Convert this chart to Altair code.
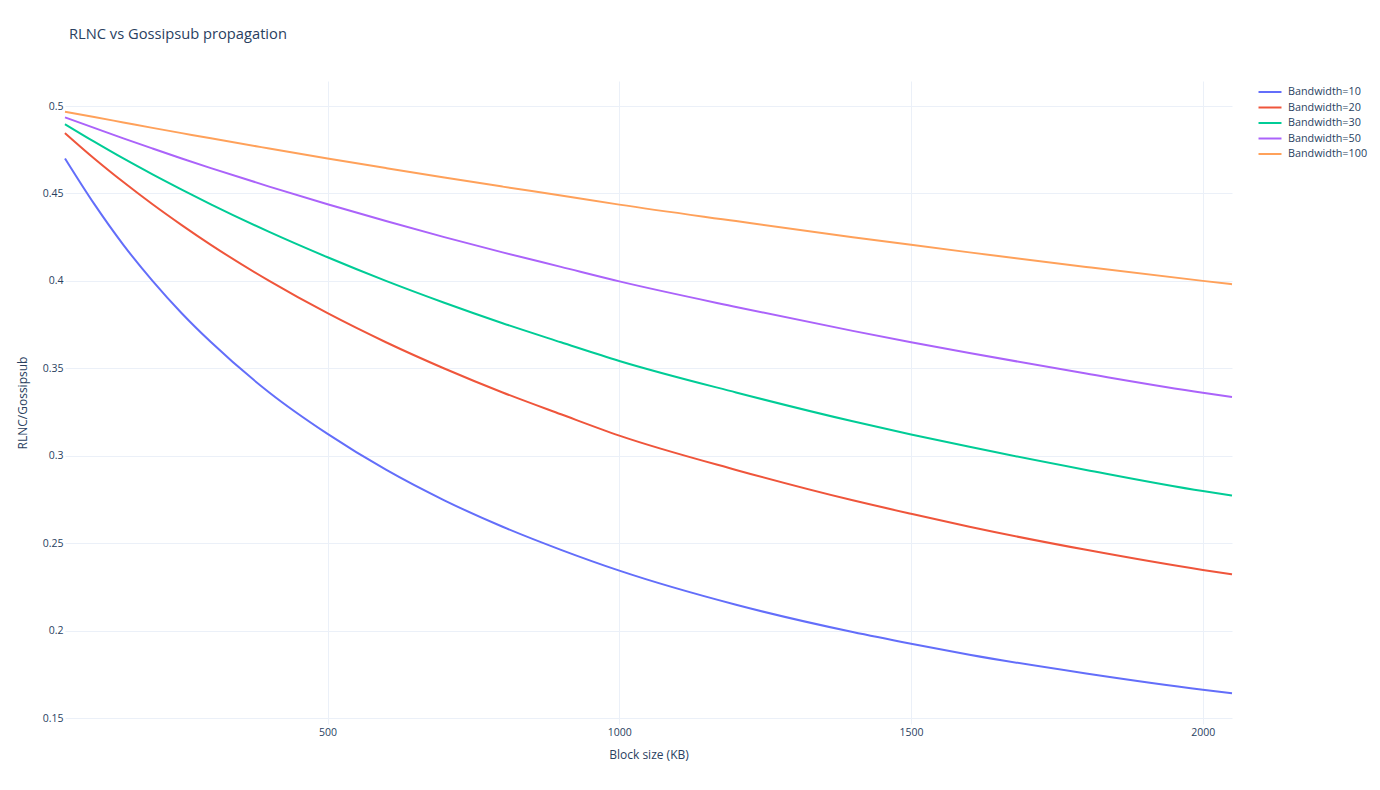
import altair as alt
import pandas as pd

block_size = [50, 100, 150, 200, 250, 300, 400, 500, 600, 700, 800, 900,
              1000, 1200, 1400, 1500, 1600, 1800, 2000, 2050]

bw10 = [0.4700, 0.4440, 0.4206, 0.4000, 0.3815, 0.3650, 0.3362, 0.3125, 0.2920, 0.2745,
        0.2594, 0.2462, 0.2343, 0.2148, 0.1992, 0.1925, 0.1862, 0.1755, 0.1662, 0.1642]
bw20 = [0.4845, 0.4700, 0.4565, 0.4438, 0.4319, 0.4206, 0.4000, 0.3815, 0.3649, 0.3499,
        0.3362, 0.3237, 0.3115, 0.2919, 0.2745, 0.2668, 0.2594, 0.2462, 0.2347, 0.2322]
bw30 = [0.4896, 0.4796, 0.4700, 0.4609, 0.4522, 0.4438, 0.4280, 0.4135, 0.4000, 0.3875,
        0.3758, 0.3649, 0.3542, 0.3362, 0.3197, 0.3122, 0.3051, 0.2919, 0.2798, 0.2773]
bw50 = [0.4935, 0.4875, 0.4815, 0.4757, 0.4700, 0.4645, 0.4539, 0.4438, 0.4342, 0.4250,
        0.4163, 0.4080, 0.3997, 0.3851, 0.3714, 0.3649, 0.3587, 0.3470, 0.3360, 0.3336]
bw100 = [0.4967, 0.4937, 0.4906, 0.4875, 0.4845, 0.4815, 0.4757, 0.4700, 0.4645, 0.4591,
         0.4539, 0.4488, 0.4436, 0.4342, 0.4250, 0.4206, 0.4163, 0.4080, 0.4000, 0.3981]

series_names = ["Bandwidth=10", "Bandwidth=20", "Bandwidth=30", "Bandwidth=50", "Bandwidth=100"]
series_values = [bw10, bw20, bw30, bw50, bw100]
colors = ["#636EFA", "#EF553B", "#00CC96", "#AB63FA", "#FFA15A"]

x_ticks = [500, 1000, 1500, 2000]
y_ticks = [0.15, 0.2, 0.25, 0.3, 0.35, 0.4, 0.45, 0.5]

rows = []
for name, vals in zip(series_names, series_values):
    for i, (x, v) in enumerate(zip(block_size, vals)):
        rows.append({"block": x, "ratio": v, "series": name, "order": i})
df = pd.DataFrame(rows)

FONT = "Open Sans"
TXT = "#2a3f5f"
GRID = "#EBF0F8"

chart = alt.Chart(df).mark_line(strokeWidth=2, interpolate="monotone").encode(
    x=alt.X("block:Q",
            scale=alt.Scale(domain=[50, 2050], nice=False, zero=False),
            axis=alt.Axis(values=x_ticks, format="d", title="Block size (KB)", grid=True,
                          gridColor=GRID, domain=False, ticks=False, tickSize=0,
                          labelPadding=3, labelFont=FONT, labelFontSize=10.5,
                          labelColor=TXT, titleFont=FONT, titleFontSize=12,
                          titleFontWeight="normal", titleColor=TXT,
                          titleX=583.5, titleY=30, titleBaseline="middle")),
    y=alt.Y("ratio:Q",
            scale=alt.Scale(domain=[0.1466, 0.5143], nice=False, zero=False),
            axis=alt.Axis(values=y_ticks, format=".2~f", title="RLNC/Gossipsub",
                          grid=True, gridColor=GRID, domain=False, ticks=False,
                          tickSize=0, labelPadding=2, labelFont=FONT,
                          labelFontSize=10.5, labelColor=TXT, titleFont=FONT,
                          titleFontSize=12, titleFontWeight="normal",
                          titleColor=TXT, titleX=-43, titleY=321.5,
                          titleBaseline="middle", titleAlign="center")),
    color=alt.Color("series:N",
                    scale=alt.Scale(domain=series_names, range=colors),
                    legend=alt.Legend(title=None, orient="none", legendX=1198,
                                      legendY=4, symbolType="M-2,0H2",
                                      symbolSize=132, symbolStrokeWidth=2,
                                      labelFont=FONT, labelFontSize=10.8,
                                      labelColor=TXT, labelOffset=11,
                                      rowPadding=3.5, padding=0)),
    order="order:Q",
).properties(
    width=1167,
    height=643,
    title=alt.Title("RLNC vs Gossipsub propagation", anchor="start", frame="group",
                    font=FONT, fontSize=14.7, fontWeight="normal", color=TXT,
                    baseline="alphabetic", offset=27.5, dx=4),
    autosize=alt.AutoSizeParams(type="none"),
    padding={"left": 57, "top": 73, "right": 140, "bottom": 50},
).configure_view(strokeWidth=0)

chart.save("out.html", embed_options={"renderer": "svg", "actions": False})
